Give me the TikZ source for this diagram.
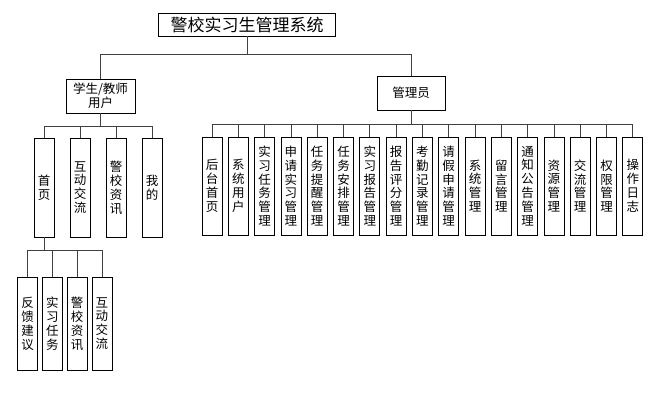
\documentclass[tikz,border=0pt]{standalone}
\usepackage{fontspec}
\setmainfont{Noto Sans CJK SC}
\usepackage{tikz}
\usetikzlibrary{positioning}

\begin{document}
\begin{tikzpicture}[
        x=1pt, y=-1pt,
        sysbox/.style={rectangle, draw=black, line width=0.9pt, minimum width=177pt, minimum height=23pt, inner sep=0pt, font=\fontsize{17}{19}\selectfont},
        rolebox/.style={rectangle, draw=black, line width=0.8pt, minimum width=69pt, minimum height=34pt, inner sep=0pt, align=center, font=\fontsize{12.5}{14}\selectfont},
        funcbox/.style={rectangle, draw=black, line width=0.8pt, minimum width=20pt, minimum height=98pt, inner sep=0pt, align=center, font=\fontsize{12.5}{13.9}\selectfont},
        link/.style={draw=black!75, line width=0.8pt}
    ]
    \useasboundingbox (0,0) rectangle (660,401);

    % Nodes
    \node[sysbox] (sys) at (247,24.5) {警校实习生管理系统};
    \node[rolebox] (user) at (100.5,96) {学生/教师\\用户};
    \node[rolebox, minimum width=68pt] (admin) at (411,93) {管理员};

    % user side
    \node[funcbox, minimum height=99pt] (home) at (44,187.5) {首\\页};
    \node[funcbox, minimum height=99pt] (chat) [right=15.2pt of home] {互\\动\\交\\流};
    \node[funcbox, minimum height=99pt] (news) [right=15.2pt of chat] {警\\校\\资\\讯};
    \node[funcbox, minimum height=99pt] (mine) [right=15.2pt of news] {我\\的};

    \node[funcbox, minimum height=93pt] (advice) at (27.5,323.5) {反\\馈\\建\\议};
    \node[funcbox, minimum height=93pt] (task) [right=4pt of advice] {实\\习\\任\\务};
    \node[funcbox, minimum height=93pt] (hnews) [right=4pt of task] {警\\校\\资\\讯};
    \node[funcbox, minimum height=93pt] (hchat) [right=4pt of hnews] {互\\动\\交\\流};

    % admin side
    \node[funcbox] (back) at (212,186) {后\\台\\首\\页};
    \node[funcbox] (sysuser) [right=5.5pt of back] {系\\统\\用\\户};
    \node[funcbox] (taskm) [right=5.5pt of sysuser] {实\\习\\任\\务\\管\\理};
    \node[funcbox] (apply) [right=5.5pt of taskm] {申\\请\\实\\习\\管\\理};
    \node[funcbox] (remind) [right=5.5pt of apply] {任\\务\\提\\醒\\管\\理};
    \node[funcbox] (plan) [right=5.5pt of remind] {任\\务\\安\\排\\管\\理};
    \node[funcbox] (report) [right=5.5pt of plan] {实\\习\\报\\告\\管\\理};
    \node[funcbox] (score) [right=5.5pt of report] {报\\告\\评\\分\\管\\理};
    \node[funcbox] (attend) [right=5.5pt of score] {考\\勤\\记\\录\\管\\理};
    \node[funcbox] (leave) [right=5.5pt of attend] {请\\假\\申\\请\\管\\理};
    \node[funcbox] (sysm) [right=5.5pt of leave] {系\\统\\管\\理};
    \node[funcbox] (msg) [right=5.5pt of sysm] {留\\言\\管\\理};
    \node[funcbox] (notice) [right=5.5pt of msg] {通\\知\\公\\告\\管\\理};
    \node[funcbox] (res) [right=5.5pt of notice] {资\\源\\管\\理};
    \node[funcbox] (chatm) [right=5.5pt of res] {交\\流\\管\\理};
    \node[funcbox] (perm) [right=5.5pt of chatm] {权\\限\\管\\理};
    \node[funcbox] (log) [right=5.5pt of perm] {操\\作\\日\\志};

    % Connections
    \draw[link] (sys.south) -- ++(0,18) coordinate (sysbus);
    \draw[link] (sysbus) -| (user.north);
    \draw[link] (sysbus) -| (admin.north);

    \draw[link] (user.south) -- ++(0,13) coordinate (userbus);
    \draw[link] (userbus) -| (home.north);
    \draw[link] (userbus) -| (chat.north);
    \draw[link] (userbus) -| (news.north);
    \draw[link] (userbus) -| (mine.north);

    \draw[link] (home.south) -- ++(0,13) coordinate (homebus);
    \draw[link] (homebus) -| (advice.north);
    \draw[link] (homebus) -| (task.north);
    \draw[link] (homebus) -| (hnews.north);
    \draw[link] (homebus) -| (hchat.north);

    \draw[link] (admin.south) -- ++(0,14) coordinate (adminbus);
    \draw[link] (adminbus) -| (back.north);
    \draw[link] (adminbus) -| (sysuser.north);
    \draw[link] (adminbus) -| (taskm.north);
    \draw[link] (adminbus) -| (apply.north);
    \draw[link] (adminbus) -| (remind.north);
    \draw[link] (adminbus) -| (plan.north);
    \draw[link] (adminbus) -| (report.north);
    \draw[link] (adminbus) -| (score.north);
    \draw[link] (adminbus) -| (attend.north);
    \draw[link] (adminbus) -| (leave.north);
    \draw[link] (adminbus) -| (sysm.north);
    \draw[link] (adminbus) -| (msg.north);
    \draw[link] (adminbus) -| (notice.north);
    \draw[link] (adminbus) -| (res.north);
    \draw[link] (adminbus) -| (chatm.north);
    \draw[link] (adminbus) -| (perm.north);
    \draw[link] (adminbus) -| (log.north);

\end{tikzpicture}
\end{document}
